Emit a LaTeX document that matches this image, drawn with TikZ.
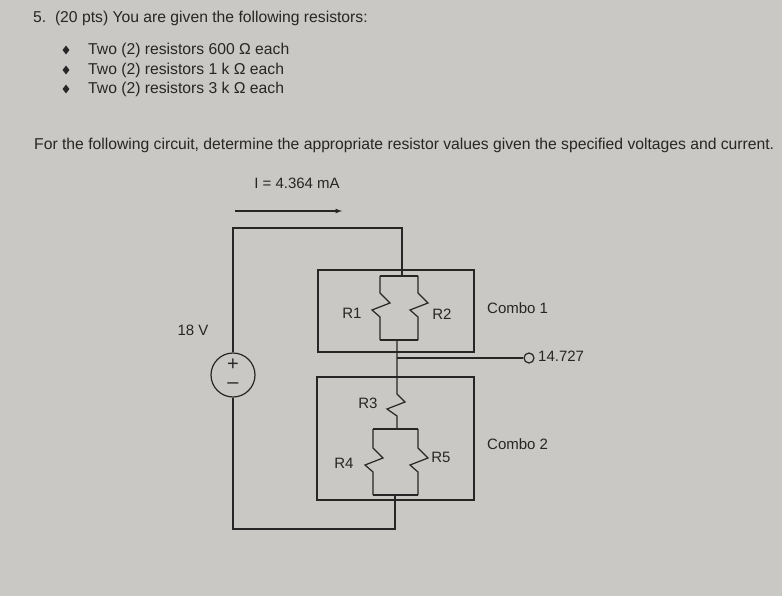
\documentclass[tikz,border=0pt]{standalone}
\usepackage{fontspec}
\setmainfont{Liberation Sans}
\usetikzlibrary{shapes.geometric}
\begin{document}
\begin{tikzpicture}[x=1pt,y=-1pt,
  wire/.style={line width=1.2pt,draw=black!85},
  txt/.style={font=\fontsize{15.7}{18}\selectfont,text=black!85,inner sep=0pt},
  lbl/.style={font=\fontsize{15}{18}\selectfont,text=black!85,inner sep=0pt}]
\fill[fill={rgb,255:red,202;green,200;blue,196}] (0,0) rectangle (782,596);
\useasboundingbox (0,0) rectangle (782,596);
% header text
\node[txt,anchor=west] (h) at (33,18) {5.\ \ (20 pts) You are given the following resistors:};
\foreach \yy/\t [count=\i] in {50/Two (2) resistors 600 Ω each,70/Two (2) resistors 1 k Ω each,89/Two (2) resistors 3 k Ω each}{
  \node[diamond,fill=black!85,inner sep=0pt,minimum width=7pt,minimum height=9pt] (b\i) at (66,\yy) {};
  \node[txt,anchor=west] (t\i) at (88,\yy) {\t};
}
\node[txt,anchor=west] (q) at (34,145) {For the following circuit, determine the appropriate resistor values given the specified voltages and current.};
\node[lbl] (I) at (297,183) {I = 4.364 mA};
\coordinate (a1) at (235,211); \coordinate (a2) at (342,211);
\draw[wire,-latex] (a1) -- (a2);
% boxes
\draw[wire] (318,270) rectangle (474,352);
\draw[wire] (317,377) rectangle (474,500);
% source
\node[draw=black!85,line width=1.2pt,circle,minimum size=44pt,inner sep=0pt] (V) at (233,375) {};
\node[font=\fontsize{20}{20}\selectfont,text=black!85] at (233,365) {+};
\node[font=\fontsize{20}{20}\selectfont,text=black!85] at (233,386) {--};
\node[lbl] (v18) at (193,330) {18 V};
% main wires
\draw[wire] (V.north) -- (233,228) -- (402,228) -- (402,276);
\draw[wire] (V.south) -- (233,529) -- (395,529) -- (395,495);
% parallel R1 R2
\draw[wire] (380,276) -- (418,276);
\draw[wire] (380,340) -- (418,340);
\foreach \xx in {380,418}{
 \draw[wire] (\xx,276) -- (\xx,293) -- ++(10,10) -- ++(-18,7) -- ++(8,7) -- (\xx,340);}
\draw[wire] (397,340) -- (397,394) -- ++(8,8) -- ++(-18,7) -- ++(10,7) -- (397,429);
\coordinate (tap) at (397,358);
\node[draw=black!85,line width=1.2pt,circle,minimum size=10pt,inner sep=0pt] (out) at (529,358) {};
\draw[wire] (tap) -- (out.west);
% parallel R4 R5
\draw[wire] (373,429) -- (418,429);
\draw[wire] (373,495) -- (418,495);
\foreach \xx in {373,418}{
 \draw[wire] (\xx,429) -- (\xx,448) -- ++(10,10) -- ++(-18,7) -- ++(8,7) -- (\xx,495);}
% labels
\node[lbl] (r1) at (352,313) {R1};
\node[lbl] (r2) at (442,314) {R2};
\node[lbl] (r3) at (368,403) {R3};
\node[lbl] (r4) at (344,463) {R4};
\node[lbl] (r5) at (441,457) {R5};
\node[lbl,anchor=west] (c1) at (487,308) {Combo 1};
\node[lbl,anchor=west] (c2) at (487,444) {Combo 2};
\node[lbl,anchor=west] (o) at (538,356) {14.727};
\end{tikzpicture}
\end{document}
